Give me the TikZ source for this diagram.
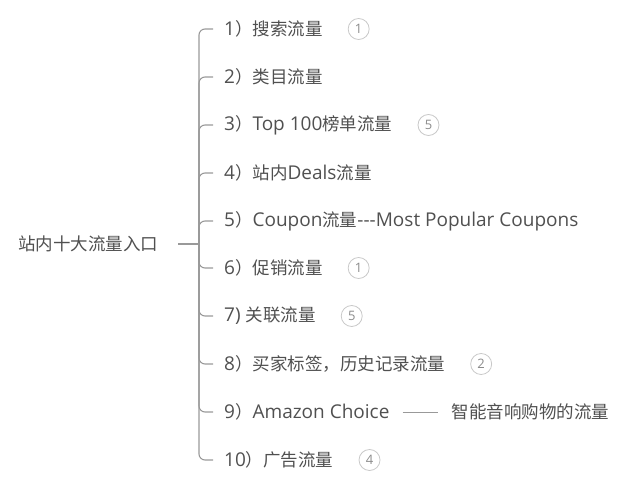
\documentclass[tikz,border=0pt]{standalone}
\usepackage{fontspec}
\usepackage{xcolor}
\usetikzlibrary{positioning}
\setmainfont{Open Sans}
\newfontfamily\cjkfont{Noto Sans CJK SC}
\newcommand\zh[1]{{\cjkfont\fontsize{17.5}{20}\selectfont #1}}
\definecolor{ink}{HTML}{505050}
\definecolor{branch}{HTML}{999999}
\definecolor{badge}{HTML}{C8C8C8}
\definecolor{badgeink}{HTML}{8A8A8A}

\begin{document}
\begin{tikzpicture}[
    x=1pt, y=-1pt,
    node distance=6pt and 23pt,
    topic/.style={text=ink, inner sep=2pt, anchor=west, font=\fontsize{19}{22}\selectfont},
    num/.style={circle, draw=badge, line width=0.8pt, minimum size=21pt, inner sep=0pt, text=badgeink, font=\fontsize{13}{14}\selectfont},
    link/.style={draw=branch, line width=1.1pt, rounded corners=6pt}
  ]
  \useasboundingbox (0,0) rectangle (621,486);

  \node[topic] (root) at (16,244) {\zh{站内十大流量入口}};
  \coordinate (fork) at (199,244);

  \node[topic] (t1) at (222,29) {1\zh{）搜索流量}};
  \node[topic] (t2) at (222,77) {2\zh{）类目流量}};
  \node[topic] (t3) at (222,125) {3\zh{）}Top 100\zh{榜单流量}};
  \node[topic] (t4) at (222,173) {4\zh{）站内}Deals\zh{流量}};
  \node[topic] (t5) at (222,221) {5\zh{）}Coupon\zh{流量}-{}-{}-Most Popular Coupons};
  \node[topic] (t6) at (222,268) {6\zh{）促销流量}};
  \node[topic] (t7) at (222,316) {7) \zh{关联流量}};
  \node[topic] (t8) at (222,364) {8\zh{）买家标签，历史记录流量}};
  \node[topic] (t9) at (222,412) {9\zh{）}Amazon Choice};
  \node[topic] (t10) at (222,460) {10\zh{）广告流量}};

  % badges
  \node[num, right=of t1] (n1) {1};
  \node[num, right=of t3] (n3) {5};
  \node[num, right=of t6] (n6) {1};
  \node[num, right=of t7] (n7) {5};
  \node[num, right=of t8] (n8) {2};
  \node[num, right=of t10] (n10) {4};

  \node[topic, right=58pt of t9.east, anchor=west] (note) {\zh{智能音响购物的流量}};

  \draw[link, shorten <=18pt] (root) -- (fork);
  \draw[link, shorten >=9pt] (fork) |- (t1);
  \draw[link, shorten >=9pt] (fork) |- (t2);
  \draw[link, shorten >=9pt] (fork) |- (t3);
  \draw[link, shorten >=9pt] (fork) |- (t4);
  \draw[link, shorten >=9pt] (fork) |- (t5);
  \draw[link, shorten >=9pt] (fork) |- (t6);
  \draw[link, shorten >=9pt] (fork) |- (t7);
  \draw[link, shorten >=9pt] (fork) |- (t8);
  \draw[link, shorten >=9pt] (fork) |- (t9);
  \draw[link, shorten >=9pt] (fork) |- (t10);
  \draw[link, line width=0.8pt, shorten <=11pt, shorten >=12pt] (t9) -- (note);
\end{tikzpicture}
\end{document}
